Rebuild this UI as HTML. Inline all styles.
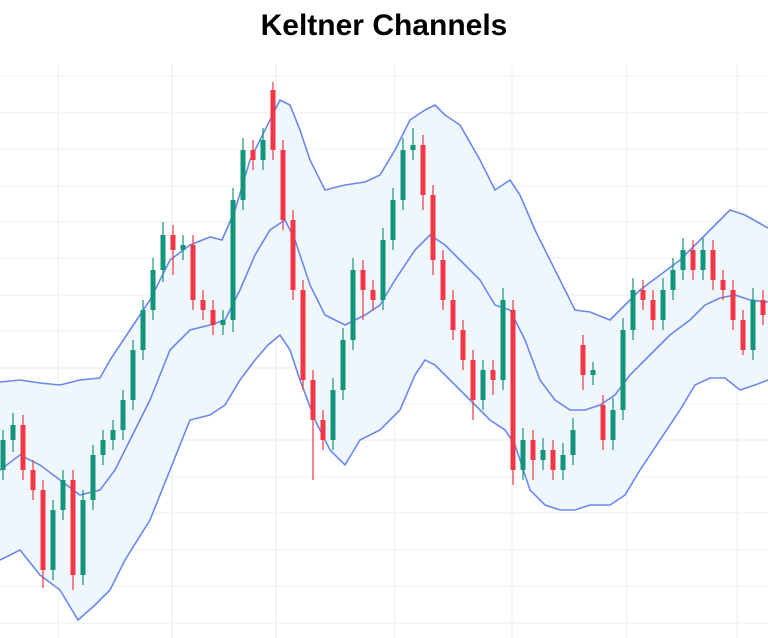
<!DOCTYPE html>
<html><head><meta charset="utf-8"><style>
html,body{margin:0;padding:0;background:#fff;width:768px;height:638px;overflow:hidden}
.t{position:absolute;top:9px;left:0;width:768px;text-align:center;font:bold 30px "Liberation Sans",sans-serif;color:#000}
svg{position:absolute;left:0;top:0}
</style></head><body>
<svg width="768" height="638" viewBox="0 0 768 638">
<g stroke="#ececec" stroke-width="1">
<path d="M0 76H768M0 113H768M0 149H768M0 186H768M0 222H768M0 258H768M0 295H768M0 331H768M0 368H768M0 404H768M0 440H768M0 477H768M0 513H768M0 550H768M0 586H768M0 623H768"/>
<path d="M58 65V638M172 65V638M276 65V638M395 65V638M512 65V638M627 65V638M737 65V638"/>
</g>
<polygon fill="#edf6fc" fill-opacity="0.9" points="0,382 20,380 40,383 60,385 80,380 100,378 110,360 130,330 150,300 170,260 190,245 210,237 222,240 235,210 250,160 265,130 280,100 290,105 300,130 310,160 325,190 345,185 365,182 380,175 395,150 410,120 425,110 435,105 445,115 460,125 480,160 495,190 510,180 520,195 535,230 550,260 565,290 575,310 590,312 610,320 625,305 640,290 660,275 680,260 700,240 715,225 730,210 745,215 768,228 768,380 755,385 740,390 725,378 710,378 695,385 680,410 660,440 640,470 625,495 610,505 590,505 575,510 560,510 545,505 530,490 515,445 505,430 490,420 470,400 450,380 435,365 425,360 415,375 400,410 380,430 360,440 345,465 330,450 315,420 300,380 290,350 280,335 268,345 255,360 240,380 225,405 210,415 190,420 170,470 150,520 125,560 110,590 95,605 78,620 60,590 40,575 20,550 0,560"/>
<g fill="none" stroke="#6a88ee" stroke-width="1.6">
<polyline points="0,382 20,380 40,383 60,385 80,380 100,378 110,360 130,330 150,300 170,260 190,245 210,237 222,240 235,210 250,160 265,130 280,100 290,105 300,130 310,160 325,190 345,185 365,182 380,175 395,150 410,120 425,110 435,105 445,115 460,125 480,160 495,190 510,180 520,195 535,230 550,260 565,290 575,310 590,312 610,320 625,305 640,290 660,275 680,260 700,240 715,225 730,210 745,215 768,228"/>
<polyline points="0,470 20,455 40,465 60,480 80,495 100,490 115,470 130,440 150,400 170,350 190,330 210,325 225,320 240,290 255,255 270,230 285,220 295,240 310,285 325,315 345,325 365,315 380,305 395,280 415,250 430,235 445,245 460,260 480,280 495,305 510,310 525,340 540,380 555,400 570,410 585,410 600,405 615,395 630,375 650,355 670,335 690,320 705,305 720,298 735,295 750,300 768,302"/>
<polyline points="0,560 20,550 40,575 60,590 78,620 95,605 110,590 125,560 150,520 170,470 190,420 210,415 225,405 240,380 255,360 268,345 280,335 290,350 300,380 315,420 330,450 345,465 360,440 380,430 400,410 415,375 425,360 435,365 450,380 470,400 490,420 505,430 515,445 530,490 545,505 560,510 575,510 590,505 610,505 625,495 640,470 660,440 680,410 695,385 710,378 725,378 740,390 755,385 768,380"/>
</g>
<g stroke="#12957a" stroke-width="1.2">
<path d="M3 430V480M13 413V452M53 500V580M63 470V520M83 490V585M93 445V510M103 430V465M113 420V450M123 390V440M133 340V410M143 300V360M153 258V320M163 222V282M183 235V260M223 310V335M233 188V332M243 138V210M263 128V170M333 378V450M343 328V400M353 258V350M383 228V310M393 188V250M403 138V210M413 128V160M483 360V410M503 288V390M523 428V480M543 438V470M563 443V480M573 418V465M593 362V385M613 398V450M623 318V420M633 278V340M663 278V330M673 258V300M683 238V280M703 238V280M753 288V360"/>
</g>
<g fill="#12957a">
<rect x="0.5" y="440" width="5" height="30"/><rect x="10.5" y="425" width="5" height="15"/><rect x="50.5" y="510" width="5" height="60"/><rect x="60.5" y="480" width="5" height="30"/><rect x="80.5" y="500" width="5" height="75"/><rect x="90.5" y="455" width="5" height="45"/><rect x="100.5" y="440" width="5" height="15"/><rect x="110.5" y="430" width="5" height="10"/><rect x="120.5" y="400" width="5" height="30"/><rect x="130.5" y="350" width="5" height="50"/><rect x="140.5" y="310" width="5" height="40"/><rect x="150.5" y="270" width="5" height="40"/><rect x="160.5" y="235" width="5" height="35"/><rect x="180.5" y="245" width="5" height="5"/><rect x="220.5" y="320" width="5" height="5"/><rect x="230.5" y="200" width="5" height="120"/><rect x="240.5" y="150" width="5" height="50"/><rect x="260.5" y="140" width="5" height="20"/><rect x="330.5" y="390" width="5" height="50"/><rect x="340.5" y="340" width="5" height="50"/><rect x="350.5" y="270" width="5" height="70"/><rect x="380.5" y="240" width="5" height="60"/><rect x="390.5" y="200" width="5" height="40"/><rect x="400.5" y="150" width="5" height="50"/><rect x="410.5" y="145" width="5" height="5"/><rect x="480.5" y="370" width="5" height="30"/><rect x="500.5" y="300" width="5" height="80"/><rect x="520.5" y="440" width="5" height="30"/><rect x="540.5" y="450" width="5" height="10"/><rect x="560.5" y="455" width="5" height="15"/><rect x="570.5" y="430" width="5" height="25"/><rect x="590.5" y="370" width="5" height="5"/><rect x="610.5" y="410" width="5" height="30"/><rect x="620.5" y="330" width="5" height="80"/><rect x="630.5" y="290" width="5" height="40"/><rect x="660.5" y="290" width="5" height="30"/><rect x="670.5" y="270" width="5" height="20"/><rect x="680.5" y="250" width="5" height="20"/><rect x="700.5" y="250" width="5" height="20"/><rect x="750.5" y="300" width="5" height="50"/>
</g>
<g stroke="#f23645" stroke-width="1.2">
<path d="M23 415V480M33 460V500M43 480V588M73 470V590M173 225V275M193 235V310M203 290V320M213 300V335M253 140V170M273 82V160M283 140V230M293 210V300M303 280V390M313 370V480M323 410V450M363 260V320M373 280V310M423 135V210M433 185V275M443 250V310M453 290V340M463 320V370M473 350V420M493 360V395M513 300V485M533 430V480M553 440V480M583 335V390M603 395V450M643 280V310M653 290V330M693 240V280M713 240V290M723 270V300M733 280V330M743 310V355M763 290V325"/>
</g>
<g fill="#f23645">
<rect x="20.5" y="425" width="5" height="45"/><rect x="30.5" y="470" width="5" height="20"/><rect x="40.5" y="490" width="5" height="80"/><rect x="70.5" y="480" width="5" height="95"/><rect x="170.5" y="235" width="5" height="15"/><rect x="190.5" y="245" width="5" height="55"/><rect x="200.5" y="300" width="5" height="10"/><rect x="210.5" y="310" width="5" height="15"/><rect x="250.5" y="150" width="5" height="10"/><rect x="270.5" y="90" width="5" height="60"/><rect x="280.5" y="150" width="5" height="70"/><rect x="290.5" y="220" width="5" height="70"/><rect x="300.5" y="290" width="5" height="90"/><rect x="310.5" y="380" width="5" height="40"/><rect x="320.5" y="420" width="5" height="20"/><rect x="360.5" y="270" width="5" height="20"/><rect x="370.5" y="290" width="5" height="10"/><rect x="420.5" y="145" width="5" height="50"/><rect x="430.5" y="195" width="5" height="65"/><rect x="440.5" y="260" width="5" height="40"/><rect x="450.5" y="300" width="5" height="30"/><rect x="460.5" y="330" width="5" height="30"/><rect x="470.5" y="360" width="5" height="40"/><rect x="490.5" y="370" width="5" height="10"/><rect x="510.5" y="310" width="5" height="160"/><rect x="530.5" y="440" width="5" height="20"/><rect x="550.5" y="450" width="5" height="20"/><rect x="580.5" y="345" width="5" height="30"/><rect x="600.5" y="405" width="5" height="35"/><rect x="640.5" y="290" width="5" height="10"/><rect x="650.5" y="300" width="5" height="20"/><rect x="690.5" y="250" width="5" height="20"/><rect x="710.5" y="250" width="5" height="30"/><rect x="720.5" y="280" width="5" height="10"/><rect x="730.5" y="290" width="5" height="30"/><rect x="740.5" y="320" width="5" height="30"/><rect x="760.5" y="300" width="5" height="15"/>
</g>
</svg>
<div class="t">Keltner Channels</div>
</body></html>
